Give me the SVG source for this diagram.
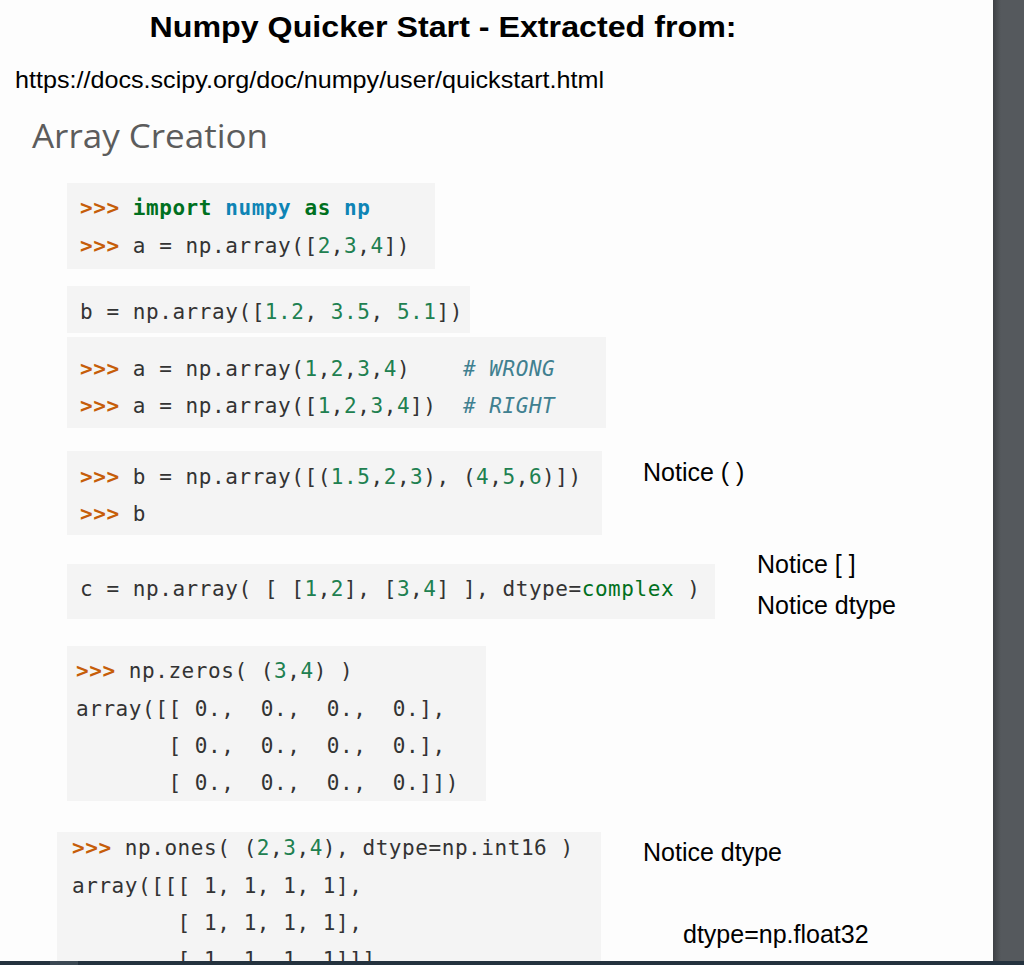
<svg xmlns="http://www.w3.org/2000/svg" width="1024" height="965" viewBox="0 0 1024 965">
<defs>
<linearGradient id="barShade" x1="0" y1="0" x2="1" y2="0">
<stop offset="0" stop-color="#3e4145"/>
<stop offset="1" stop-color="#55595d"/>
</linearGradient>
</defs>
<style>
.code{font-family:"DejaVu Sans Mono","Liberation Mono",monospace;font-size:21px;letter-spacing:0.56px;fill:#333;white-space:pre}
.blk{fill:#f4f4f4}
.p{fill:#c65d09;font-weight:bold}
.n{fill:#208050}
.kw{fill:#007020;font-weight:bold}
.nm{fill:#0e84b5;font-weight:bold}
.c{fill:#408090;font-style:italic}
.bi{fill:#007020}
.note{font-family:"Liberation Sans",Arial,sans-serif;font-size:25px;fill:#000}
</style>
<rect x="0" y="0" width="1024" height="965" fill="#fdfdfd"/>
<g id="title">
<text x="443" y="37" text-anchor="middle" font-family="Liberation Sans,Arial,sans-serif" font-weight="bold" font-size="30" fill="#000" textLength="587" lengthAdjust="spacingAndGlyphs">Numpy Quicker Start - Extracted from:</text>
</g>
<g id="url">
<text x="15" y="88" font-family="Liberation Sans,Arial,sans-serif" font-size="24" fill="#000" textLength="589" lengthAdjust="spacingAndGlyphs">https://docs.scipy.org/doc/numpy/user/quickstart.html</text>
</g>
<g id="heading">
<text x="32" y="148" font-family="Open Sans,DejaVu Sans,sans-serif" font-size="33" fill="#5c5c5c" textLength="236" lengthAdjust="spacingAndGlyphs">Array Creation</text>
</g>
<g id="block1">
<rect class="blk" x="67" y="183" width="368" height="86"/>
<text class="code" x="80" y="215"><tspan class="p">&gt;&gt;&gt;</tspan> <tspan class="kw">import</tspan> <tspan class="nm">numpy</tspan> <tspan class="kw">as</tspan> <tspan class="nm">np</tspan></text>
<text class="code" x="80" y="253"><tspan class="p">&gt;&gt;&gt;</tspan> a = np.array([<tspan class="n">2</tspan>,<tspan class="n">3</tspan>,<tspan class="n">4</tspan>])</text>
</g>
<g id="block2">
<rect class="blk" x="67" y="286" width="403" height="47"/>
<text class="code" x="80" y="319">b = np.array([<tspan class="n">1.2</tspan>, <tspan class="n">3.5</tspan>, <tspan class="n">5.1</tspan>])</text>
</g>
<g id="block3">
<rect class="blk" x="67" y="337" width="539" height="91"/>
<text class="code" x="80" y="376"><tspan class="p">&gt;&gt;&gt;</tspan> a = np.array(<tspan class="n">1</tspan>,<tspan class="n">2</tspan>,<tspan class="n">3</tspan>,<tspan class="n">4</tspan>)    <tspan class="c"># WRONG</tspan></text>
<text class="code" x="80" y="413"><tspan class="p">&gt;&gt;&gt;</tspan> a = np.array([<tspan class="n">1</tspan>,<tspan class="n">2</tspan>,<tspan class="n">3</tspan>,<tspan class="n">4</tspan>])  <tspan class="c"># RIGHT</tspan></text>
</g>
<g id="block4">
<rect class="blk" x="67" y="451" width="535" height="84"/>
<text class="code" x="80" y="484"><tspan class="p">&gt;&gt;&gt;</tspan> b = np.array([(<tspan class="n">1.5</tspan>,<tspan class="n">2</tspan>,<tspan class="n">3</tspan>), (<tspan class="n">4</tspan>,<tspan class="n">5</tspan>,<tspan class="n">6</tspan>)])</text>
<text class="code" x="80" y="521"><tspan class="p">&gt;&gt;&gt;</tspan> b</text>
</g>
<g id="block5">
<rect class="blk" x="67" y="564" width="648" height="55"/>
<text class="code" x="80" y="596">c = np.array( [ [<tspan class="n">1</tspan>,<tspan class="n">2</tspan>], [<tspan class="n">3</tspan>,<tspan class="n">4</tspan>] ], dtype=<tspan class="bi">complex</tspan> )</text>
</g>
<g id="block6">
<rect class="blk" x="67" y="646" width="419" height="155"/>
<text class="code" x="76" y="678"><tspan class="p">&gt;&gt;&gt;</tspan> np.zeros( (<tspan class="n">3</tspan>,<tspan class="n">4</tspan>) )</text>
<text class="code" x="76" y="716">array([[ 0.,  0.,  0.,  0.],</text>
<text class="code" x="76" y="753">       [ 0.,  0.,  0.,  0.],</text>
<text class="code" x="76" y="790">       [ 0.,  0.,  0.,  0.]])</text>
</g>
<g id="block7">
<rect class="blk" x="57" y="832" width="544" height="133"/>
<text class="code" x="72" y="855"><tspan class="p">&gt;&gt;&gt;</tspan> np.ones( (<tspan class="n">2</tspan>,<tspan class="n">3</tspan>,<tspan class="n">4</tspan>), dtype=np.int16 )</text>
<text class="code" x="72" y="893">array([[[ 1, 1, 1, 1],</text>
<text class="code" x="72" y="930">        [ 1, 1, 1, 1],</text>
<text class="code" x="72" y="967">        [ 1, 1, 1, 1]]]</text>
</g>
<g id="notes">
<text class="note" x="643" y="481">Notice ( )</text>
<text class="note" x="757" y="573">Notice [ ]</text>
<text class="note" x="757" y="614">Notice dtype</text>
<text class="note" x="643" y="861">Notice dtype</text>
<text class="note" x="683" y="943">dtype=np.float32</text>
</g>
<g id="frame">
<rect x="993" y="0" width="31" height="965" fill="#55595d"/>
<rect x="993" y="0" width="8" height="965" fill="url(#barShade)"/>
<rect x="0" y="961" width="1024" height="4" fill="#24323e"/>
<rect x="50" y="961" width="28" height="4" fill="#3b4853"/>
</g>
<g id="connectors"/>
</svg>
